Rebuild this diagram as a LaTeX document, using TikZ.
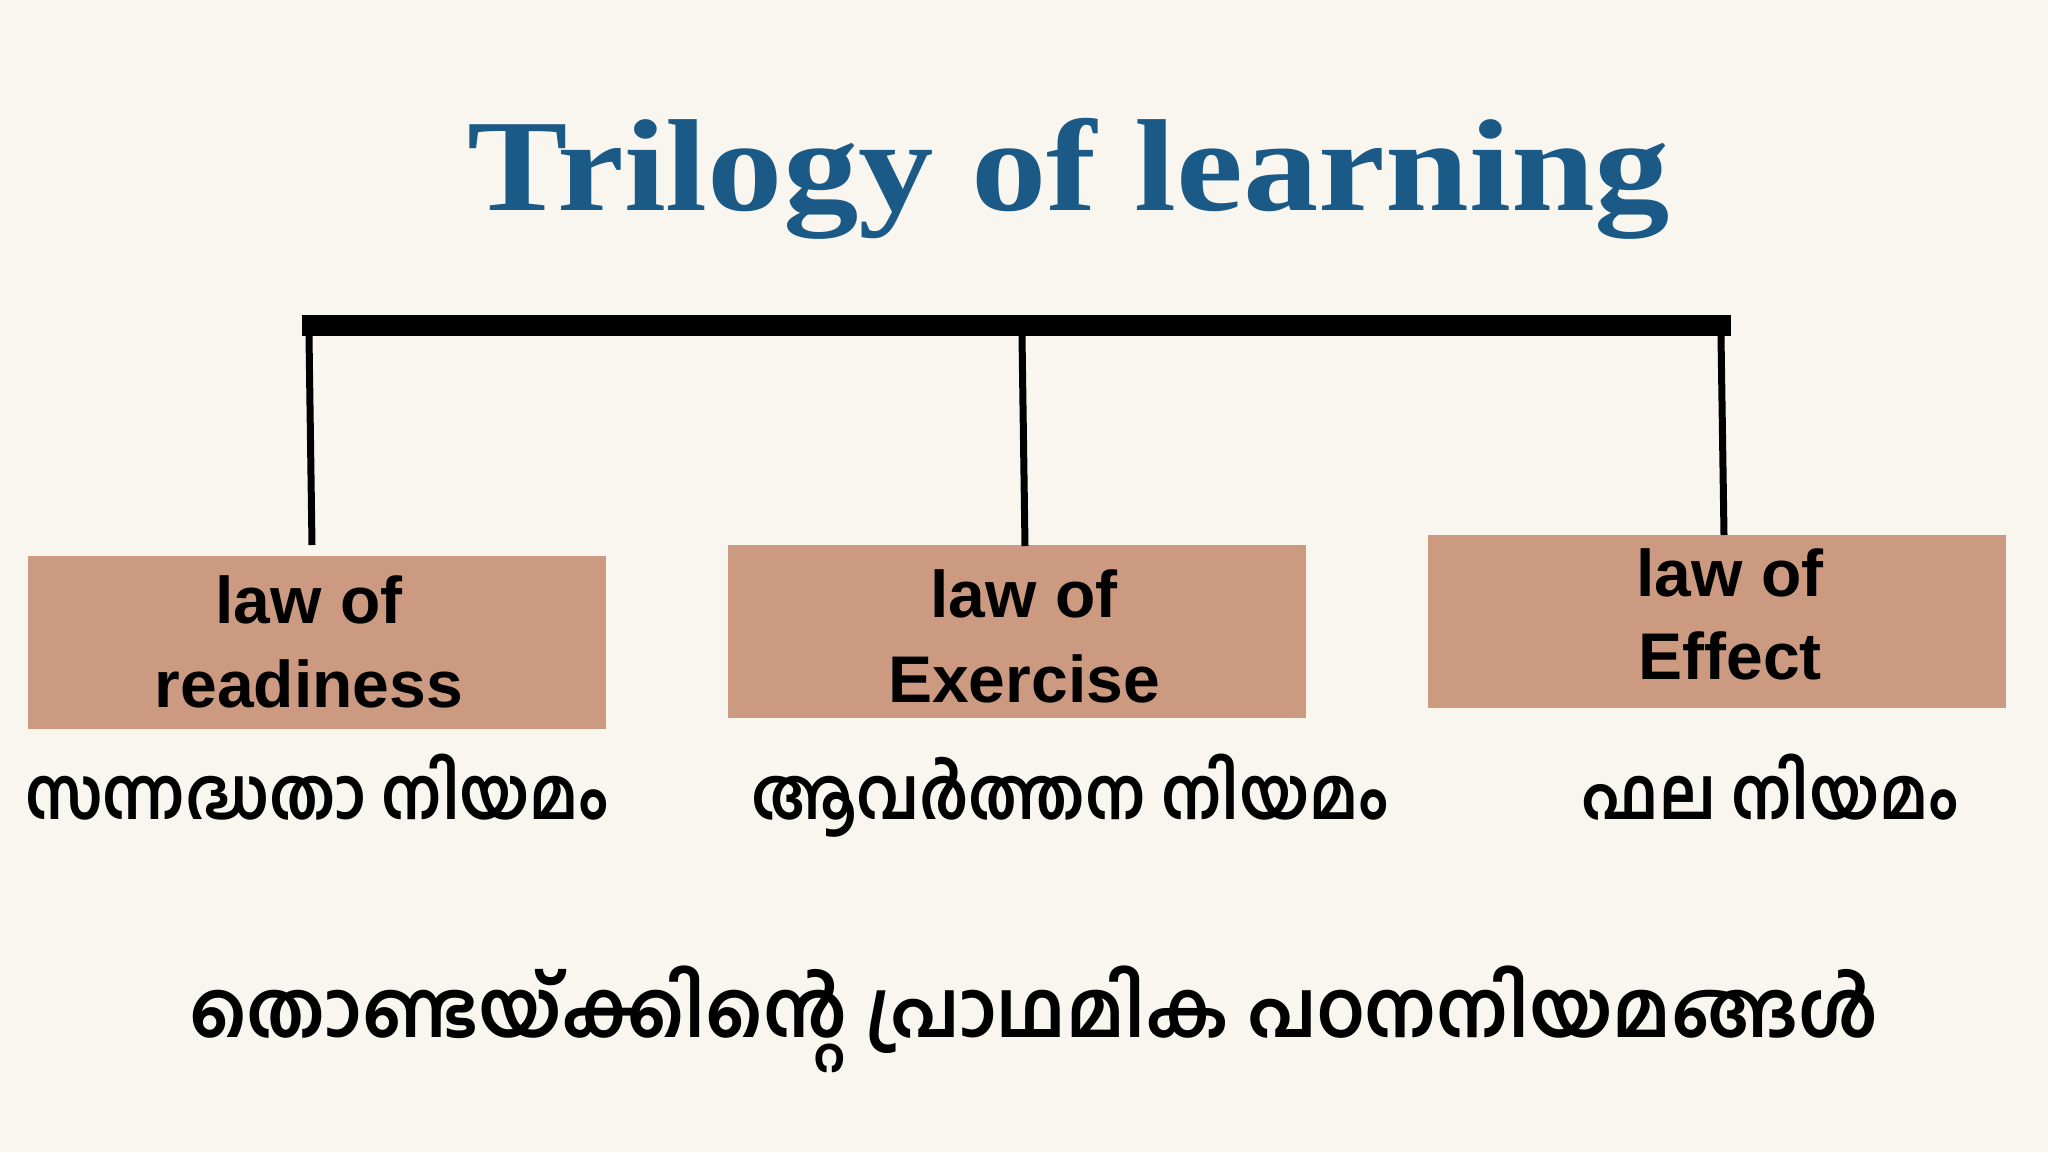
\documentclass[tikz,border=0pt]{standalone}
\usepackage{fontspec}
\usepackage{graphicx}
\setmainfont{Liberation Sans}
\newfontfamily\titlefont[FakeStretch=1.15]{Liberation Serif}
\newfontfamily\mlfont[Script=Malayalam]{Hind Kochi}
\definecolor{bgcol}{HTML}{F8F6EF}
\definecolor{boxcol}{HTML}{CB9A80}
\definecolor{titlecol}{HTML}{1B5A87}
\newcommand{\mlstretch}[1]{\scalebox{1.05}[1.2]{#1}}
\newcommand{\mlbottom}[1]{\scalebox{1}[1.05]{#1}}
\begin{document}
\begin{tikzpicture}[x=1bp,y=-1bp,
  lawbox/.style={draw=none,fill=boxcol,inner sep=0pt,anchor=north west},
  lawtext/.style={anchor=base,inner sep=0pt,font=\fontsize{66bp}{66bp}\selectfont\bfseries},
  mltext/.style={anchor=base,inner sep=0pt,font=\mlfont\bfseries\fontsize{60bp}{60bp}\selectfont},
  conn/.style={line width=7bp,black}]
\useasboundingbox[fill=bgcol] (0,0) rectangle (2048,1152);
% title
\node[anchor=base,inner sep=0pt,text=titlecol,font=\titlefont\bfseries\fontsize{131bp}{131bp}\selectfont] (title) at (1069,210) {Trilogy of learning};
% bar
\node[fill=black,inner sep=0pt,minimum width=1429bp,minimum height=21bp,anchor=north west] (bar) at (302,315) {};
% boxes
\node[lawbox,minimum width=578bp,minimum height=173bp] (box1) at (28,556) {};
\node[lawbox,minimum width=578bp,minimum height=173bp] (box2) at (728,545) {};
\node[lawbox,minimum width=578bp,minimum height=173bp] (box3) at (1428,535) {};
% connectors
\coordinate (t1) at (309,336);
\coordinate (e1) at (312,545);
\coordinate (t2) at (1022,336);
\coordinate (e2) at (1025,546);
\coordinate (t3) at (1721,336);
\coordinate (e3) at (1724,535);
\draw[conn] (t1) -- (e1);
\draw[conn] (t2) -- (e2);
\draw[conn] (t3) -- (e3);
% box texts
\node[lawtext] (r1) at (309,623) {law of};
\node[lawtext] (r2) at (309,707) {readiness};
\node[lawtext] (x1) at (1024,617) {law of};
\node[lawtext] (x2) at (1024,702) {Exercise};
\node[lawtext] (f1) at (1730,596) {law of};
\node[lawtext] (f2) at (1730,679) {Effect};
% malayalam labels
\node[mltext] (m1) at (317,819) {\mlstretch{സന്നദ്ധതാ നിയമം}};
\node[mltext] (m2) at (1070,819) {\mlstretch{ആവർത്തന നിയമം}};
\node[mltext] (m3) at (1770,819) {\mlstretch{ഫല നിയമം}};
\node[mltext,font=\mlfont\bfseries\fontsize{75bp}{75bp}\selectfont] (bottom) at (1034,1037) {\mlbottom{തൊണ്ടയ്ക്കിന്റെ പ്രാഥമിക പഠനനിയമങ്ങൾ}};
\end{tikzpicture}
\end{document}
